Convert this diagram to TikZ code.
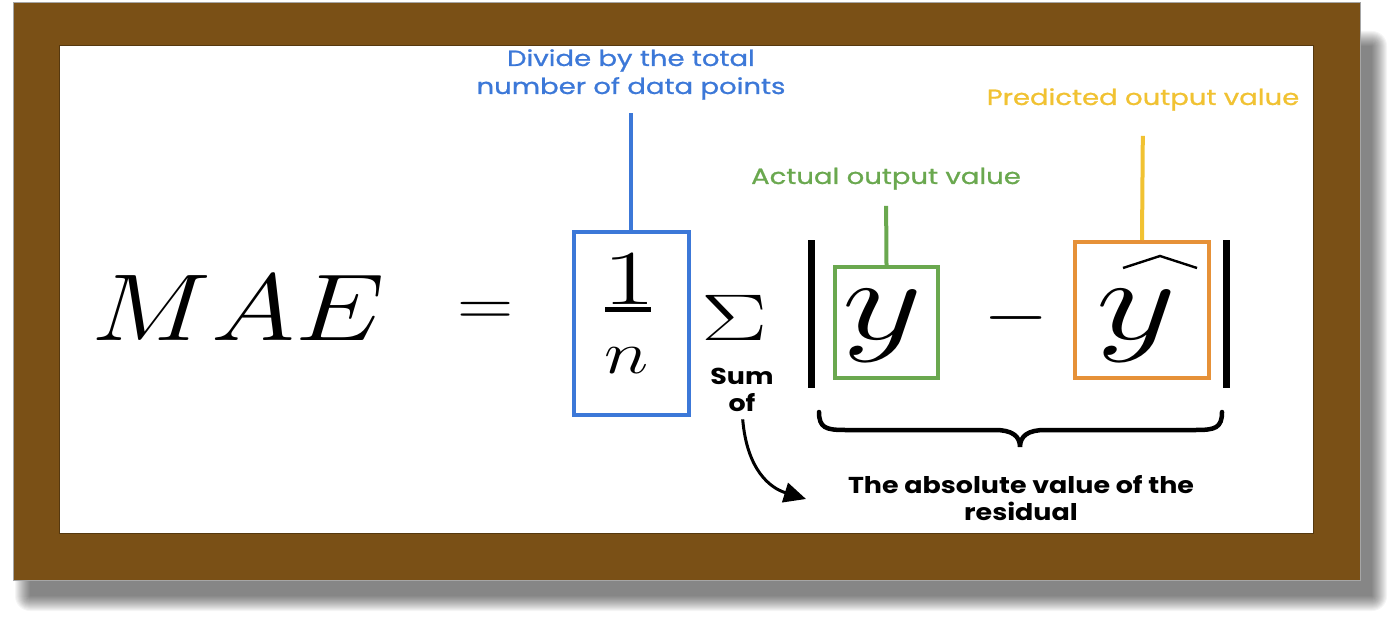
\RequirePackage{fix-cm}
\documentclass[tikz,border=0pt]{standalone}
\usepackage{fontspec}
\newfontfamily\popf{Poppins}
\newfontfamily\popm{Poppins}[FakeBold=0.8]
\usetikzlibrary{arrows.meta}
\definecolor{brownframe}{RGB}{122,80,22}
\definecolor{blueC}{RGB}{60,120,216}
\definecolor{greenC}{RGB}{106,168,79}
\definecolor{yellowC}{RGB}{241,194,50}
\definecolor{orangeC}{RGB}{230,145,56}
\begin{document}
\begin{tikzpicture}[x=1pt,y=-1pt,
  lbl/.style={font=\popm\fontsize{22}{28}\selectfont, align=center, anchor=base, inner sep=0pt, xscale=1.25},
  blbl/.style={font=\popf\bfseries\fontsize{23}{27}\selectfont, align=center, anchor=base, inner sep=0pt, text=black, xscale=1.17},
  mth/.style={anchor=base, inner sep=0pt, xscale=1.2},
  hbox/.style={draw, line width=4pt, fill=none, inner sep=0pt},
  stem/.style={line width=4pt}
]
\useasboundingbox (0,0) rectangle (1400,620);
% shadow
\foreach \i in {0,...,15}{
  \fill[black, opacity=0.04, rounded corners=\i pt] (30-\i,46-\i) rectangle (1372+\i,596+\i);
}
% frame
\fill[brownframe] (13,2) rectangle (1360,580);
\draw[black!35, line width=0.8pt] (13,2) rectangle (1360,580);
\fill[white] (59,45) rectangle (1313,533);
\draw[brownframe!70!black, line width=0.6pt] (59,45) rectangle (1313,533);

% equation
\node[mth, font=\fontsize{95}{95}\selectfont, xscale=1.0] (mae) at (238,340) {$MAE$};
\node[mth, font=\fontsize{65}{65}\selectfont] (eq) at (486,325) {$=$};
\node[hbox, draw=blueC, minimum width=115pt, minimum height=183pt] (fracbox) at (631,323.5) {};
\node[mth, font=\fontsize{78}{78}\selectfont, xscale=1.25] (num) at (629,305) {$1$};
\fill (605,307) rectangle (651,312.5);
\node[mth, font=\fontsize{60}{60}\selectfont, xscale=1.05] (den) at (627,373) {$n$};
\node[anchor=base, inner sep=0pt, xscale=1.5, font=\fontsize{66}{66}\selectfont] (sigma) at (735,340) {$\Sigma$};
\fill (808,240) rectangle (815,388);
\node[hbox, draw=greenC, minimum width=103pt, minimum height=111pt] (gbox) at (886.5,322.5) {};
\node[mth, font=\fontsize{116}{116}\selectfont, xscale=1.12] (yact) at (883,339) {$y$};
\node[mth, font=\fontsize{70}{70}\selectfont] (minus) at (1016,335) {$-$};
\node[hbox, draw=orangeC, minimum width=134pt, minimum height=136pt] (obox) at (1142,310) {};
\node[mth, font=\fontsize{116}{116}\selectfont, xscale=1.12] (ypred) at (1136,339) {$y$};
\draw[line width=2.4pt, line join=miter] (1123,268) -- (1160,256) -- (1197,268);
\fill (1223,240) rectangle (1230,388);

% labels
\node[lbl, text=blueC] (divide) at (631,94) {Divide by the total\\number of data points};
\node[lbl, text=greenC] (actual) at (886,184) {Actual output value};
\node[lbl, text=yellowC] (pred) at (1143,105) {Predicted output value};
\node[blbl] (sumof) at (742,411) {Sum\\of};
\node[blbl] (resid) at (1021,520) {The absolute value of the\\residual};

% connectors
\draw[stem, blueC] (fracbox.north) -- (divide.south) [shorten >=13pt];
\draw[stem, greenC] (gbox.north) -- (actual.south) [shorten >=16pt];
\draw[stem, yellowC] (obox.north) -- (pred.south) [shorten >=25pt];

% brace
\draw[line width=4.5pt, line cap=round] (819,412) .. controls (819,428) and (826,430) .. (845,430) -- (995,430) .. controls (1012,430) and (1020,436) .. (1020,447) .. controls (1020,436) and (1028,430) .. (1045,430) -- (1196,430) .. controls (1215,430) and (1222,428) .. (1222,412);

% arrow
\coordinate (arrowend) at (806,499);
\draw[line width=3pt, -{Triangle[length=22pt,width=20pt]}, shorten <=8pt] (sumof.south) .. controls (747,470) and (770,488) .. (arrowend);
\end{tikzpicture}
\end{document}
